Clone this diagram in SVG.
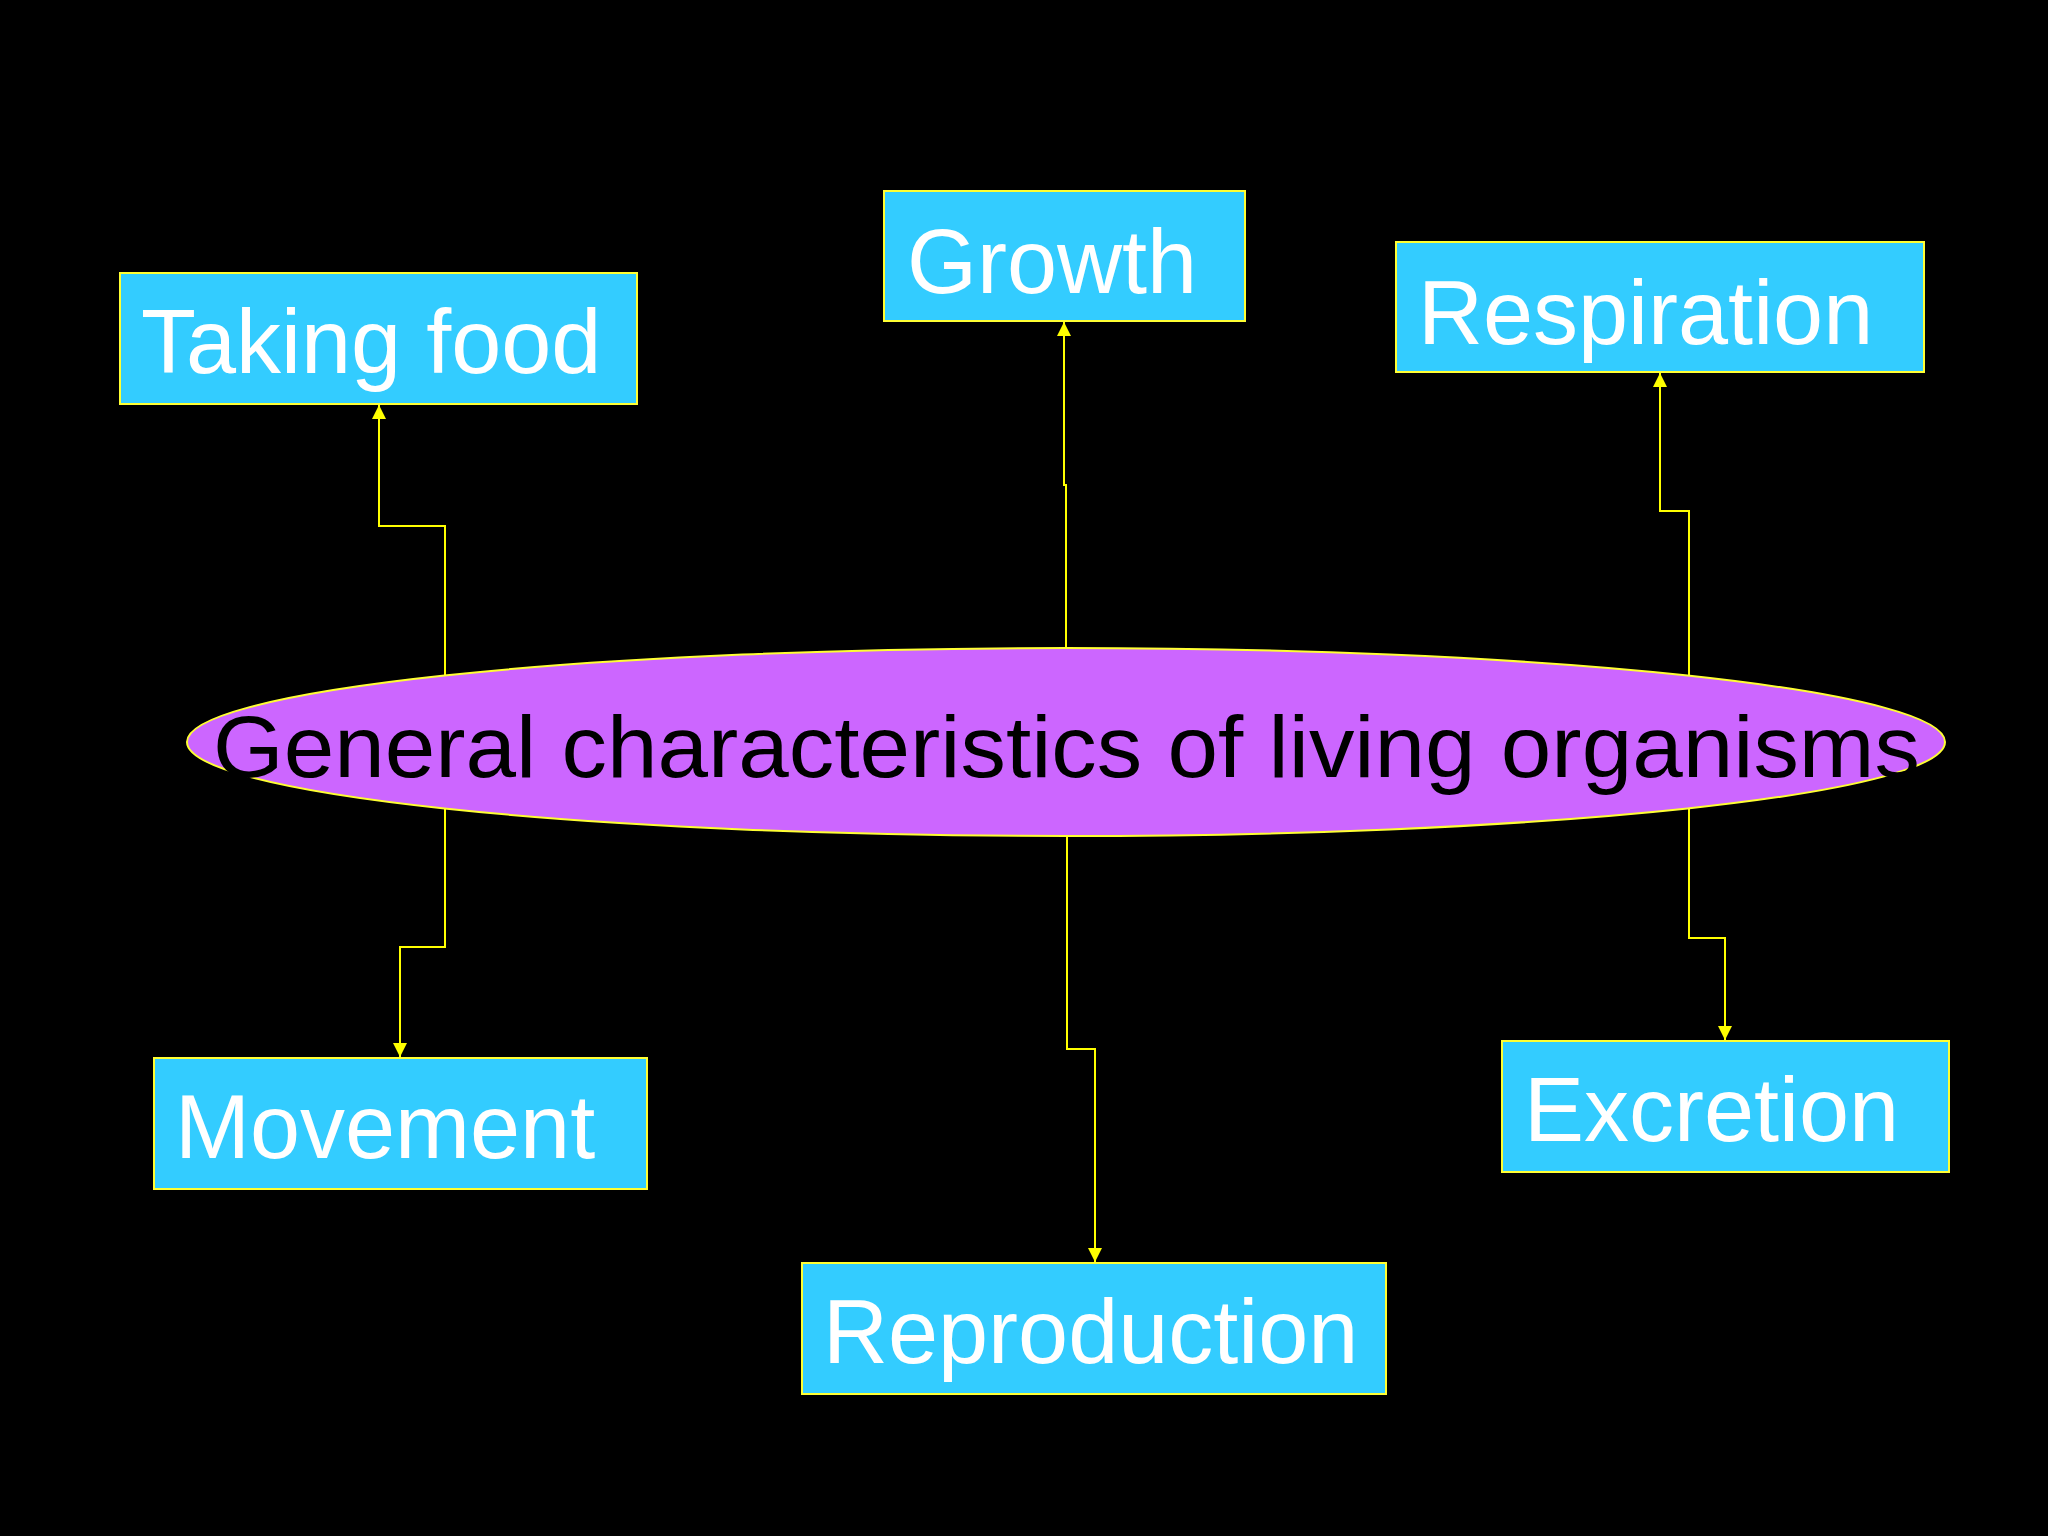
<svg xmlns="http://www.w3.org/2000/svg" width="2048" height="1536" viewBox="0 0 2048 1536">
<style>
.box{fill:#33CCFF;stroke:#FFFF33;stroke-width:2}
.lbl{font-family:"Liberation Sans",Arial,sans-serif;font-size:90px;fill:#FFFFFF}
.c{fill:none;stroke:#FFFF00;stroke-width:2}
</style>
<defs>
<marker id="ah" viewBox="0 0 10 10" refX="10" refY="5" markerWidth="7" markerHeight="7" orient="auto" markerUnits="userSpaceOnUse"><path d="M0,0 L10,5 L0,10 Z" fill="#FFFF00"/></marker>
<marker id="a" viewBox="0 0 10 10" refX="10" refY="5" markerWidth="16" markerHeight="14" orient="auto" markerUnits="userSpaceOnUse"><path d="M0,0 L10,5 L0,10 Z" fill="#FFFF00"/></marker>
</defs>
<rect width="2048" height="1536" fill="#000"/>
<g id="connectors">
<path class="c" d="M445,742 V526 H379 V405" marker-end="url(#a)"/>
<path class="c" d="M445,742 V947 H400 V1057" marker-end="url(#a)"/>
<path class="c" d="M1066,742 V485 H1064 V322" marker-end="url(#a)"/>
<path class="c" d="M1689,742 V511 H1660 V373" marker-end="url(#a)"/>
<path class="c" d="M1689,742 V938 H1725 V1040" marker-end="url(#a)"/>
<path class="c" d="M1067,742 V1049 H1095 V1262" marker-end="url(#a)"/>
</g>
<g id="center">
<ellipse cx="1066" cy="742" rx="879" ry="94" fill="#CC66FF" stroke="#FFFF33" stroke-width="2"/>
<text x="213" y="777" font-family="Liberation Sans,Arial,sans-serif" font-size="88" fill="#000" textLength="1707" lengthAdjust="spacingAndGlyphs">General characteristics of living organisms</text>
</g>
<g id="taking-food"><rect class="box" x="120" y="273" width="517" height="131"/><text class="lbl" x="141" y="373">Taking food</text></g>
<g id="growth"><rect class="box" x="884" y="191" width="361" height="130"/><text class="lbl" x="907" y="293">Growth</text></g>
<g id="respiration"><rect class="box" x="1396" y="242" width="528" height="130"/><text class="lbl" x="1418" y="344">Respiration</text></g>
<g id="movement"><rect class="box" x="154" y="1058" width="493" height="131"/><text class="lbl" x="175" y="1158">Movement</text></g>
<g id="reproduction"><rect class="box" x="802" y="1263" width="584" height="131"/><text class="lbl" x="823" y="1363">Reproduction</text></g>
<g id="excretion"><rect class="box" x="1502" y="1041" width="447" height="131"/><text class="lbl" x="1524" y="1141">Excretion</text></g>
</svg>
